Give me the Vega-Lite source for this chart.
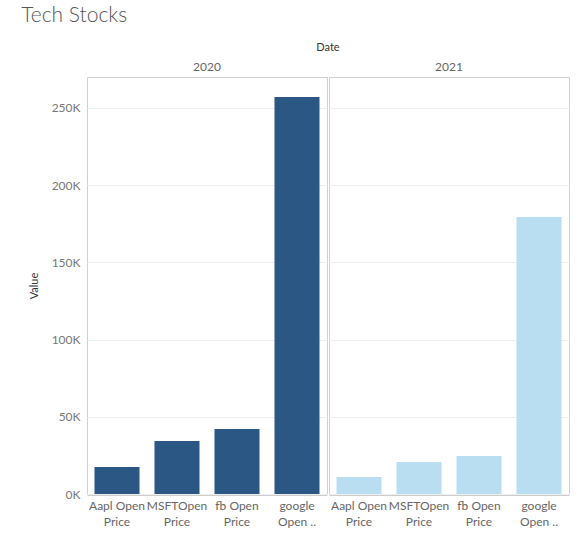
{
  "$schema": "https://vega.github.io/schema/vega-lite/v6.json",
  "padding": {"left": 21, "top": 5, "right": 5, "bottom": 2},
  "title": {"text": "Tech Stocks", "anchor": "start", "fontSize": 21, "font": "Lato", "fontWeight": 300, "color": "#555555", "dx": -7, "offset": 16},
  "data": {
    "values": [
      {"Date": "2020", "Measure": "Aapl Open Price", "Value": 17500},
      {"Date": "2020", "Measure": "MSFTOpen Price", "Value": 34300},
      {"Date": "2020", "Measure": "fb Open Price", "Value": 42100},
      {"Date": "2020", "Measure": "google Open Price", "Value": 257000},
      {"Date": "2021", "Measure": "Aapl Open Price", "Value": 11000},
      {"Date": "2021", "Measure": "MSFTOpen Price", "Value": 20700},
      {"Date": "2021", "Measure": "fb Open Price", "Value": 24600},
      {"Date": "2021", "Measure": "google Open Price", "Value": 179400}
    ]
  },
  "facet": {
    "column": {
      "field": "Date",
      "type": "ordinal",
      "title": "Date",
      "header": {
        "titleFontSize": 11, "titleFont": "Lato", "titleFontWeight": "normal", "titleColor": "#333333", "titlePadding": -2,
        "labelFontSize": 12, "labelFont": "Lato", "labelColor": "#666666", "labelPadding": 2
      }
    }
  },
  "spacing": 0,
  "spec": {
    "width": 240,
    "height": 417,
    "mark": {"type": "bar"},
    "encoding": {
      "x": {
        "field": "Measure",
        "type": "nominal",
        "sort": ["Aapl Open Price", "MSFTOpen Price", "fb Open Price", "google Open Price"],
        "scale": {"paddingInner": 0.25, "paddingOuter": 0.125},
        "axis": {
          "title": null,
          "labelAngle": 0,
          "labelFont": "Lato",
          "labelFontSize": 12,
          "labelColor": "#666666",
          "labelLineHeight": 16,
          "labelPadding": 5,
          "domainColor": "#cccccc",
          "ticks": false,
          "labelExpr": "datum.value == 'google Open Price' ? ['google', 'Open ..'] : datum.value == 'Aapl Open Price' ? ['Aapl Open', 'Price'] : datum.value == 'fb Open Price' ? ['fb Open', 'Price'] : ['MSFTOpen', 'Price']"
        }
      },
      "y": {
        "field": "Value",
        "type": "quantitative",
        "scale": {"domain": [0, 270000], "nice": false},
        "axis": {
          "title": "Value",
          "titleFont": "Lato",
          "titleFontSize": 11,
          "titleFontWeight": "normal",
          "titleColor": "#333333",
          "titlePadding": 12,
          "labelFont": "Lato",
          "labelFontSize": 12,
          "labelColor": "#777777",
          "labelPadding": 6,
          "values": [0, 50000, 100000, 150000, 200000, 250000],
          "labelExpr": "(datum.value / 1000) + 'K'",
          "domain": false,
          "ticks": false,
          "grid": true,
          "gridColor": "#efefef"
        }
      },
      "color": {
        "field": "Date",
        "type": "nominal",
        "scale": {"domain": ["2020", "2021"], "range": ["#2a5783", "#b9ddf1"]},
        "legend": null
      }
    }
  },
  "config": {
    "view": {"stroke": "#d0d0d0"},
    "background": "#ffffff"
  }
}
